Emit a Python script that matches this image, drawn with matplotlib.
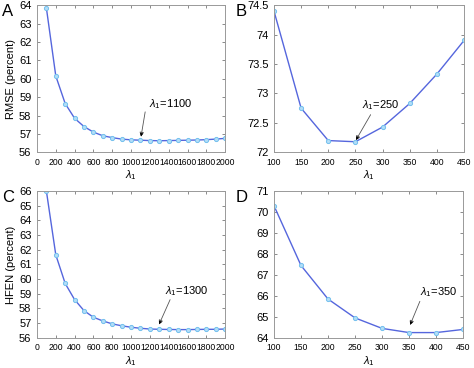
import numpy as np
import matplotlib
matplotlib.use("Agg")
import matplotlib.pyplot as plt

plt.rcParams['font.family'] = ['Liberation Sans', 'DejaVu Sans']
plt.rcParams['mathtext.fontset'] = 'custom'
plt.rcParams['mathtext.it'] = 'Liberation Sans:italic'
plt.rcParams['mathtext.rm'] = 'Liberation Sans'

# panel A / C : lambda1 100..2000
lam_big = [100, 200, 300, 400, 500, 600, 700, 800, 900, 1000,
           1100, 1200, 1300, 1400, 1500, 1600, 1700, 1800, 1900, 2000]
rmse_big = [63.85, 60.15, 58.65, 57.85, 57.4, 57.1, 56.9, 56.8, 56.72, 56.68,
            56.66, 56.64, 56.63, 56.64, 56.65, 56.66, 56.67, 56.69, 56.72, 56.76]
hfen_big = [66.0, 61.65, 59.7, 58.6, 57.85, 57.4, 57.15, 56.95, 56.82, 56.72,
            56.65, 56.6, 56.58, 56.57, 56.56, 56.56, 56.57, 56.58, 56.58, 56.6]

# panel B / D : lambda1 100..450
lam_small = [100, 150, 200, 250, 300, 350, 400, 450]
rmse_small = [74.4, 72.75, 72.2, 72.18, 72.43, 72.83, 73.33, 73.9]
hfen_small = [70.3, 67.45, 65.85, 64.95, 64.45, 64.25, 64.25, 64.4]

line_c = '#5566dd'
mk_face = '#b3ddf7'
mk_edge = '#72bfee'

fig = plt.figure(figsize=(4.74, 3.68), dpi=100)

panels = [
    # rect, x, y, xlim, ylim, xticks, yticks, ylabel, letter, text pos, arrow tail, arrow head, label
    ([0.078, 0.586, 0.397, 0.400], lam_big, rmse_big, (0, 2000), (56, 64),
     np.arange(0, 2001, 200), np.arange(56, 65, 1), 'RMSE (percent)', 'A',
     (1425, 58.6), (1150, 58.2), (1106, 56.86), '$\\lambda_1$=1100'),
    ([0.578, 0.586, 0.401, 0.400], lam_small, rmse_small, (100, 450), (72, 74.5),
     np.arange(100, 451, 50), [72, 72.5, 73, 73.5, 74, 74.5], None, 'B',
     (297, 72.81), (278, 72.64), (251, 72.21), '$\\lambda_1$=250'),
    ([0.078, 0.082, 0.397, 0.399], lam_big, hfen_big, (0, 2000), (56, 66),
     np.arange(0, 2001, 200), np.arange(56, 67, 1), 'HFEN (percent)', 'C',
     (1590, 59.15), (1415, 58.6), (1298, 56.92), '$\\lambda_1$=1300'),
    ([0.578, 0.082, 0.399, 0.399], lam_small, hfen_small, (100, 450), (64, 71),
     np.arange(100, 451, 50), np.arange(64, 72, 1), None, 'D',
     (405, 66.2), (370, 65.74), (352, 64.62), '$\\lambda_1$=350'),
]

for rect, xs, ys, xl, yl, xt, yt, ylab, letter, tpos, tail, head, lab in panels:
    ax = fig.add_axes(rect)
    ax.plot(xs, ys, color=line_c, lw=1.0, marker='o', ms=3,
            mfc=mk_face, mec=mk_edge, mew=0.7)
    ax.set_xlim(*xl)
    ax.set_ylim(*yl)
    ax.set_xticks(xt)
    ax.set_yticks(yt)
    ax.set_yticklabels([('%g' % v) for v in yt])
    ax.tick_params(direction='in', top=True, right=True,
                   length=2.5, width=0.6, color='#777777')
    ax.tick_params(axis='y', labelsize=8, pad=4)
    ax.tick_params(axis='x', labelsize=6.2, pad=4)
    for s in ax.spines.values():
        s.set_color('#999999')
        s.set_linewidth(0.7)
    ax.set_xlabel('$\\lambda_1$', fontsize=8, labelpad=1)
    if ylab:
        ax.set_ylabel(ylab, fontsize=8, labelpad=2)
    ax.text(tpos[0], tpos[1], lab, fontsize=8, ha='center', va='center')
    ax.annotate('', xy=head, xytext=tail,
                arrowprops=dict(arrowstyle='-|>', color='#555555', lw=0.6,
                                mutation_scale=6, shrinkA=0, shrinkB=0))
    ax.annotate('', xy=head, xytext=tail,
                arrowprops=dict(arrowstyle='-|>', color='black', lw=0,
                                mutation_scale=6, shrinkA=0, shrinkB=0))
    fx = 0.004 if letter in 'AC' else 0.497
    fig.text(fx, rect[1] + rect[3] - 0.018, letter, fontsize=12,
             ha='left', va='center')

fig.savefig('out.png', dpi=100)
